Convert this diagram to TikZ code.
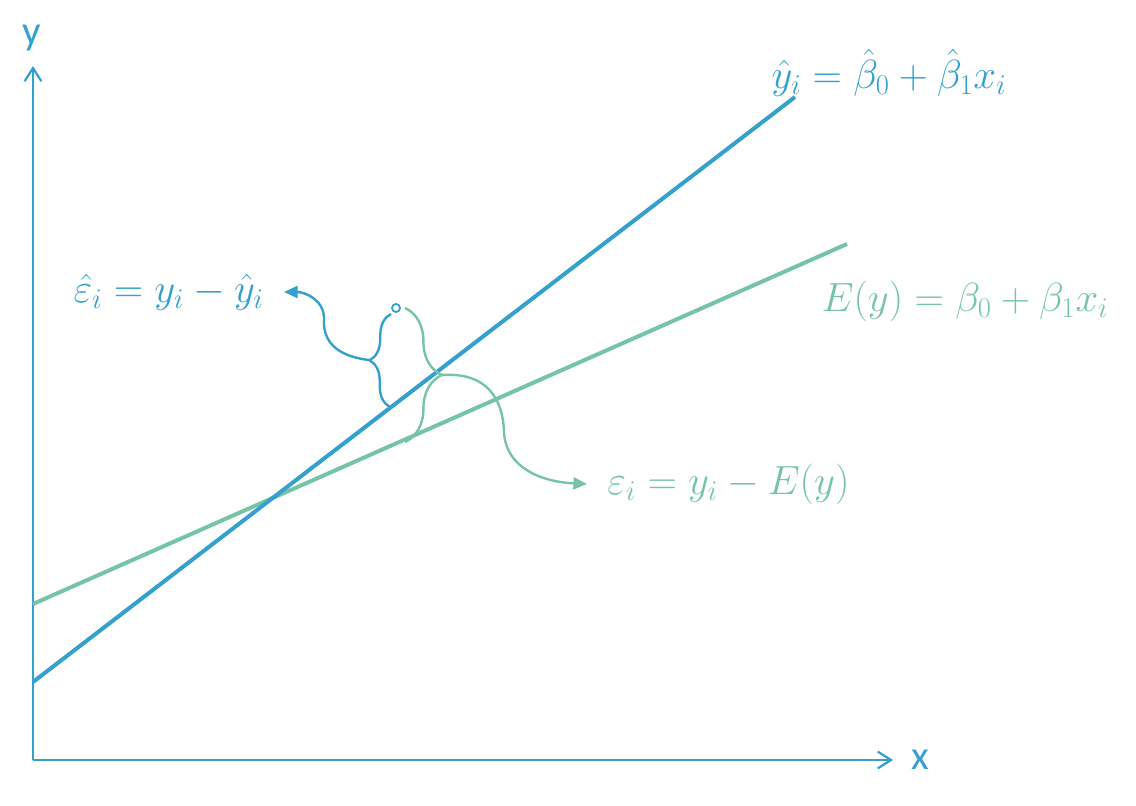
\RequirePackage{fix-cm}
\documentclass[tikz,border=0pt]{standalone}
\usepackage{amsmath}
\usepackage{amssymb}
\usepackage{fontspec}
\setmainfont{Carlito}
\usepackage{tikz}
\usepackage{xcolor}
\usetikzlibrary{arrows.meta}
\usetikzlibrary{decorations.pathreplacing,positioning}
\definecolor{fitblue}{RGB}{52,160,206}
\definecolor{popgreen}{RGB}{118,196,166}
\begin{document}
\begin{tikzpicture}[x=0.025cm,y=-0.025cm,every node/.style={font=\fontsize{29}{35}\selectfont},axis/.style={fitblue,line width=0.055cm,-{Straight Barb[length=0.33cm,width=0.42cm]}},fitline/.style={line width=0.1cm},bracepath/.style={line width=0.06cm,decorate},callout/.style={line width=0.06cm,-{Triangle[length=0.34cm,width=0.3cm]}}]
\useasboundingbox (0,0) rectangle (1136,806);
\coordinate (o) at (33,760);
\node[fitblue] (ylab) at (32,38) {y};
\node[fitblue] (xlab) at (920,760) {x};
\draw[axis] (o) -- (33,66);
\draw[axis] (o) -- (893,760);
\draw[popgreen,fitline] (33,604) -- (847,244);
\draw[fitblue,fitline] (33,682) -- (795,97);
\node[fitblue] (fitlab) at (889,73) {$\hat{y}_i = \hat{\beta}_0 + \hat{\beta}_1 x_i$};
\node[popgreen] (poplab) at (965,301) {$E(y) = \beta_0 + \beta_1 x_i$};
\node[circle,draw=fitblue,line width=0.045cm,inner sep=0pt,minimum size=0.2cm] (yi) at (396,308) {};
\draw[fitblue,bracepath,decoration={brace,amplitude=0.525cm}] (390,407) -- (391,314);
\draw[popgreen,bracepath,decoration={brace,amplitude=0.92cm}] (405,308) -- (405,442);
\coordinate (bt) at (369,360);
\coordinate (gt) at (442,375);
\node[fitblue,anchor=east,inner xsep=0.5cm] (ehat) at (284,292) {$\hat{\varepsilon}_i = y_i - \hat{y}_i$};
\node[popgreen,anchor=west,inner xsep=0.5cm] (eps) at (587,484) {$\varepsilon_i = y_i - E(y)$};
\draw[fitblue,callout] (bt) .. controls (335,356) and (323,340) .. (324,320) .. controls (325,300) and (305,292) .. (ehat.east);
\draw[popgreen,callout] (gt) .. controls (488,372) and (503,400) .. (504,432) .. controls (506,470) and (545,482) .. (eps.west);
\end{tikzpicture}
\end{document}
